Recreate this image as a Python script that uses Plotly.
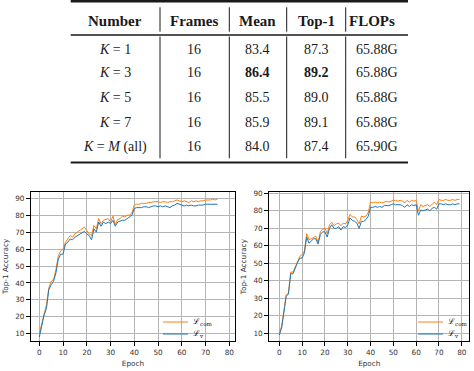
import plotly.graph_objects as go

# ---------------- table data ----------------
table_headers = ["Number", "Frames", "Mean", "Top-1", "FLOPs"]
row_numbers = ["<i>K</i> = 1", "<i>K</i> = 3", "<i>K</i> = 5", "<i>K</i> = 7", "<i>K</i> = <i>M</i> (all)"]
row_frames = ["16", "16", "16", "16", "16"]
row_mean = ["83.4", "86.4", "85.5", "85.9", "84.0"]
row_top1 = ["87.3", "89.2", "89.0", "89.1", "87.4"]
row_flops = ["65.88G", "65.88G", "65.88G", "65.88G", "65.90G"]

# ---------------- chart data ----------------
epochs_left = list(range(76))
left_com = [10, 16, 22, 27, 37, 41, 42, 48, 56, 59,
            60, 64, 66, 68, 67, 69, 70, 71, 72.5, 73,
            71, 69, 68, 74, 72, 78, 75, 77, 77.5, 78,
            76, 79.5, 74.5, 77.5, 78, 79.5, 79, 80, 80, 81.5,
            86, 86.5, 86.5, 87, 87, 87, 87.5, 87.5, 88, 88,
            88, 87.5, 88, 88, 87.5, 88, 88, 88.5, 89, 88.5,
            88, 88.5, 88, 87.5, 88.5, 88, 88.5, 88, 88.5, 88.5,
            89, 89, 89, 89.5, 89, 89.5]
left_v = [8, 15, 21, 25, 36, 39, 41, 46, 54, 57,
          57, 63, 64, 66, 65.5, 67, 68, 69, 70, 70.5,
          69, 68, 65.5, 72, 70, 76, 73.5, 76, 75, 76,
          75, 77, 73.5, 76, 76.5, 77, 77, 78, 78.5, 80,
          84, 84.5, 84.5, 84.5, 85, 85, 84.5, 85, 85.5, 85.5,
          85, 85.5, 85, 85.5, 85, 84.5, 85.5, 86, 87, 86.5,
          86, 85.5, 86, 85.5, 86, 85.5, 85.5, 86, 86, 86,
          86.5, 86.5, 86.5, 86.5, 86.5, 86.5]

epochs_right = list(range(80))
right_com = [10, 14, 23, 32, 33, 45, 45, 48, 51, 54,
             55, 57, 67, 63.5, 64, 65, 65.5, 62, 68, 69.5,
             70, 67, 72, 73.5, 71.5, 72.5, 73, 71.5, 73, 72.5,
             74.5, 78, 76.5, 76.5, 75, 72.5, 77, 76.5, 77, 79,
             85, 84.5, 85, 84.5, 85, 84.5, 85, 85.5, 85, 85.5,
             86, 86, 85.5, 86, 85.5, 84.5, 86, 85, 86, 85.5,
             86, 80, 83.5, 82.5, 83, 83.5, 82.5, 84, 85, 83.5,
             86.5, 86, 86, 86.5, 86, 86, 86.5, 86, 86.5, 86.5]
right_v = [9, 13, 22, 31, 32.5, 44, 44, 47.5, 50.5, 53,
           53, 56, 65, 61.5, 63, 64, 64, 61, 66.5, 68,
           68, 65, 70, 72, 70, 70, 71, 69, 71, 70.5,
           72, 76, 74.5, 74, 73, 70, 74, 74, 75, 77,
           82, 82, 82.5, 82, 82.5, 82, 83, 83, 83, 83.5,
           84, 83.5, 83.5, 83.5, 83, 82, 83.5, 82.5, 83.5, 83,
           83.5, 77.5, 80.5, 80, 80.5, 81, 80, 81.5, 82, 81,
           84, 84, 83.5, 84, 83.5, 83.5, 84, 83.5, 84, 84]

legend_names = ["ℒ<sub>com</sub>", "ℒ<sub>v</sub>"]
C_COM = "#ff7f0e"
C_V = "#1f77b4"

W, H = 474, 371


def px(x):
    return x / W


def py(y):
    return 1 - y / H


fig = go.Figure()
fig.add_trace(go.Scatter(x=epochs_left, y=left_com, mode="lines", name=legend_names[0],
                         line=dict(color=C_COM, width=1), xaxis="x", yaxis="y", showlegend=False))
fig.add_trace(go.Scatter(x=epochs_left, y=left_v, mode="lines", name=legend_names[1],
                         line=dict(color=C_V, width=1), xaxis="x", yaxis="y", showlegend=False))
fig.add_trace(go.Scatter(x=epochs_right, y=right_com, mode="lines", name=legend_names[0],
                         line=dict(color=C_COM, width=1), xaxis="x2", yaxis="y2", showlegend=False))
fig.add_trace(go.Scatter(x=epochs_right, y=right_v, mode="lines", name=legend_names[1],
                         line=dict(color=C_V, width=1), xaxis="x2", yaxis="y2", showlegend=False))

tickfont = dict(family="DejaVu Sans", size=7.3, color="#333333")
titlefont = dict(family="DejaVu Sans", size=7.3, color="#333333")
axis_common = dict(showline=True, linecolor="black", linewidth=1.2, mirror=True,
                   ticks="outside", ticklen=4, tickwidth=1, tickcolor="black",
                   showgrid=True, gridcolor="#b4b4b4", gridwidth=1.1, zeroline=False,
                   tickfont=tickfont, automargin=False)

fig.update_layout(
    width=W, height=H, margin=dict(l=0, r=0, t=0, b=0),
    paper_bgcolor="white", plot_bgcolor="white", showlegend=False,
    xaxis=dict(domain=[px(31), px(235)], range=[-3.5, 82.4], dtick=10, tick0=0,
               anchor="y", title=dict(text="Epoch", font=titlefont, standoff=5), **axis_common),
    yaxis=dict(domain=[py(341), py(191.7)], range=[5.7, 93.9], dtick=10, tick0=0,
               anchor="x", title=dict(text="Top-1 Accuracy", font=titlefont, standoff=5), **axis_common),
    xaxis2=dict(domain=[px(269.3), px(469.3)], range=[-4.4, 83.3], dtick=10, tick0=0,
                anchor="y2", title=dict(text="Epoch", font=titlefont, standoff=5), **axis_common),
    yaxis2=dict(domain=[py(341), py(192.3)], range=[5.6, 90.6], dtick=10, tick0=0,
                anchor="x2", title=dict(text="Top-1 Accuracy", font=titlefont, standoff=5), **axis_common),
)

shapes = []
annotations = []

# ---------------- legends (manual, matplotlib-like spacing) ----------------
legend_specs = [
    # line x0, line x1, y_com, y_v in pixels
    (163, 188, 322, 334),
    (418, 443, 322, 334),
]
for lx0, lx1, yc, yv in legend_specs:
    for yy, col, name in [(yc, C_COM, legend_names[0]), (yv, C_V, legend_names[1])]:
        shapes.append(dict(type="line", xref="paper", yref="paper",
                           x0=px(lx0), x1=px(lx1), y0=py(yy), y1=py(yy),
                           line=dict(color=col, width=1)))
        annotations.append(dict(xref="paper", yref="paper", x=px(lx1 + 3), y=py(yy),
                                xanchor="left", yanchor="middle", showarrow=False,
                                text=name,
                                font=dict(family="DejaVu Serif", size=8, color="#111111")))

# ---------------- table ----------------
header_centers = [115.3, 194.3, 257.7, 316.0, 372.3]
cell_centers = [115.3, 194.3, 257.7, 316.0, 376.8]
header_y = 20.7
row_ys = [49.3, 72.7, 97.7, 122.7, 146.7]
tbl_x0, tbl_x1 = 70.7, 408.0
vlines = [160.0, 229.3, 286.7, 345.7]
serif = "Liberation Serif"
tcolor = "#1a1a1a"

for h, cx in zip(table_headers, header_centers):
    annotations.append(dict(xref="paper", yref="paper", x=px(cx), y=py(header_y),
                            xanchor="center", yanchor="middle", showarrow=False,
                            text="<b>" + h + "</b>", font=dict(family=serif, size=15, color=tcolor)))

best_mean = max(float(v) for v in row_mean)
best_top1 = max(float(v) for v in row_top1)
columns = [row_numbers, row_frames, row_mean, row_top1, row_flops]
for ci, col in enumerate(columns):
    for ri, val in enumerate(col):
        txt = val
        if (ci == 2 and float(val) == best_mean) or (ci == 3 and float(val) == best_top1):
            txt = "<b>" + val + "</b>"
        annotations.append(dict(xref="paper", yref="paper", x=px(cell_centers[ci]), y=py(row_ys[ri]),
                                xanchor="center", yanchor="middle", showarrow=False,
                                text=txt, font=dict(family=serif, size=14, color=tcolor)))

# horizontal rules
for yy, wdt in [(1.2, 2.5), (35.0, 1.3), (162.4, 2.0)]:
    shapes.append(dict(type="line", xref="paper", yref="paper",
                       x0=px(tbl_x0), x1=px(tbl_x1), y0=py(yy), y1=py(yy),
                       line=dict(color="#1a1a1a", width=wdt)))
# vertical rules
for vx in vlines:
    shapes.append(dict(type="line", xref="paper", yref="paper",
                       x0=px(vx), x1=px(vx), y0=py(7.3), y1=py(31.7),
                       line=dict(color="#1a1a1a", width=1)))
    shapes.append(dict(type="line", xref="paper", yref="paper",
                       x0=px(vx), x1=px(vx), y0=py(36.5), y1=py(158.3),
                       line=dict(color="#1a1a1a", width=1)))

fig.update_layout(shapes=shapes, annotations=annotations)
fig.write_html("out.html", config={"displayModeBar": False},
               post_script="document.body.style.margin='0px';document.body.style.overflow='hidden';")
